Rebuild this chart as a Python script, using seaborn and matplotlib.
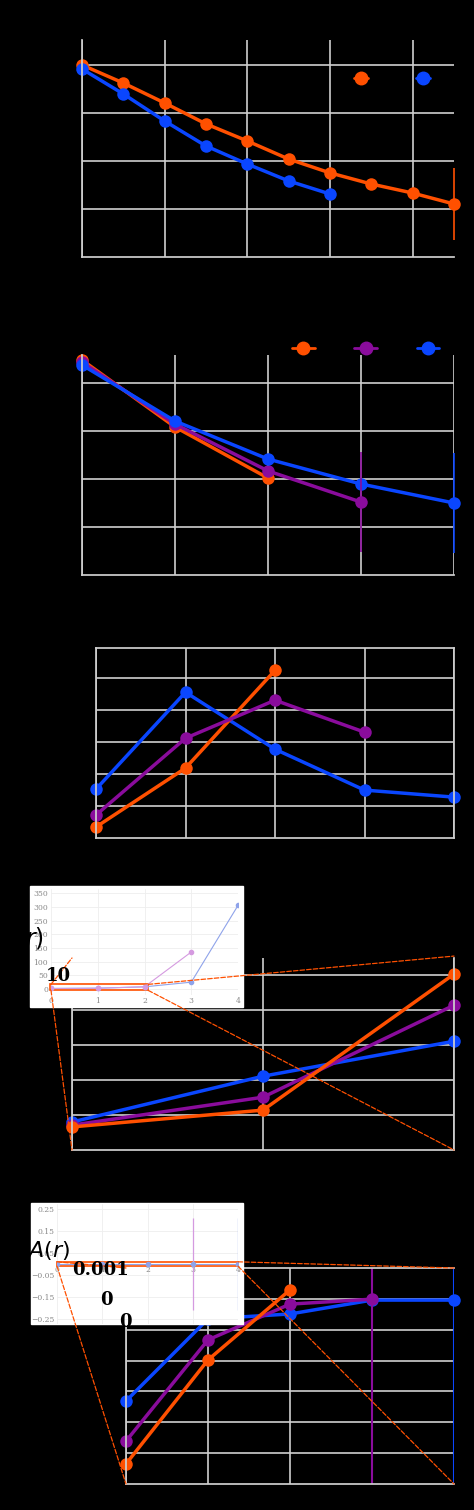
import numpy as np
import matplotlib
matplotlib.use("Agg")
import matplotlib.pyplot as plt
import seaborn as sns
from matplotlib.patches import Rectangle, ConnectionPatch

sns.set_theme(style="white")
plt.rcParams['font.family'] = ['DejaVu Serif', 'DejaVu Sans']

ORANGE = '#ff5000'
BLUE = '#0a46ff'
PURPLE = '#8a0c9c'
GRID = '#cfcfcf'

# panel 1
p1_x_orange = [0, 1, 2, 3, 4, 5, 6, 7, 8, 9]
p1_orange = [1.0, 0.906, 0.802, 0.693, 0.604, 0.510, 0.438, 0.380, 0.333, 0.276]
p1_x_blue = [0, 1, 2, 3, 4, 5, 6]
p1_blue = [0.979, 0.849, 0.708, 0.578, 0.484, 0.396, 0.328]
p1_err_orange = 0.185

# panel 2
p2_x = [0, 1, 2, 3, 4]
p2_orange = [1.12, 0.771, 0.505]
p2_purple = [1.109, 0.786, 0.542, 0.380]
p2_blue = [1.094, 0.802, 0.604, 0.474, 0.375]
p2_err = 0.26

# panel 3
p3_x = [0, 1, 2, 3, 4]
p3_blue = [0.306, 0.913, 0.556, 0.30, 0.256]
p3_orange = [0.069, 0.438, 1.05]
p3_purple = [0.144, 0.625, 0.863, 0.663]

# panel 4
p4_x = [0, 1, 2]
p4_blue = [0.80, 2.11, 3.11]
p4_purple = [0.71, 1.51, 4.14]
p4_orange = [0.66, 1.14, 5.03]
in4_x = [0, 1, 2, 3, 4]
in4_blue = [2, 3, 8, 25, 305]
in4_purple = [2, 3, 8, 135]

# panel 5
p5_x = [0, 1, 2, 3, 4]
p5_blue = [2.69, 5.35, 5.51, 5.96, 5.96]
p5_purple = [1.39, 4.67, 5.83, 5.99]
p5_orange = [0.65, 4.02, 6.29]
in5_vals = [0.0, 0.0, 0.0, 0.0, 0.0]
in5_err = 0.21

W, H = 474, 1510
fig = plt.figure(figsize=(W / 100, H / 100), dpi=100, facecolor='black')


def px_axes(x0, y0, x1, y1):
    return fig.add_axes([x0 / W, 1 - y1 / H, (x1 - x0) / W, (y1 - y0) / H])


def style(ax, xticks, yticks):
    ax.set_facecolor('black')
    ax.set_xticks(xticks)
    ax.set_yticks(yticks)
    ax.grid(True, color=GRID, lw=1.2)
    for s in ['top', 'right']:
        ax.spines[s].set_visible(False)
    for s in ['left', 'bottom']:
        ax.spines[s].set_color(GRID)
    ax.tick_params(colors='black', labelcolor='black', labelsize=9)
    ax.set_xlabel('')
    ax.set_ylabel('')


def line(ax, x, y, c, ms=9, lw=2.5):
    sns.lineplot(x=x[:len(y)], y=y, ax=ax, color=c, marker='o', markersize=ms,
                 markeredgewidth=0, lw=lw, clip_on=False, legend=False)


# ---- panel 1
ax1 = px_axes(82, 40, 454, 257)
line(ax1, p1_x_orange, p1_orange, ORANGE)
line(ax1, p1_x_blue, p1_blue, BLUE)
eb = ax1.errorbar([p1_x_orange[-1]], [p1_orange[-1]], yerr=p1_err_orange, color=ORANGE, lw=1.2, fmt='none')
for art in eb.lines[2]:
    art.set_clip_on(False)
ax1.set_xlim(0, 9); ax1.set_ylim(0, 1.13)
style(ax1, [0, 2, 4, 6, 8], [0.25, 0.5, 0.75, 1.0])
for xx, c in [(6.75, ORANGE), (8.25, BLUE)]:
    ax1.plot([xx - 0.18, xx + 0.18], [0.93, 0.93], color=c, lw=2)
    ax1.plot([xx], [0.93], color=c, marker='o', ms=9)

# ---- panel 2
ax2 = px_axes(82, 355, 454, 575)
line(ax2, p2_x, p2_orange, ORANGE)
line(ax2, p2_x, p2_purple, PURPLE)
line(ax2, p2_x, p2_blue, BLUE)
ax2.errorbar([3], [p2_purple[3]], yerr=p2_err, color=PURPLE, lw=1.2, fmt='none')
eb = ax2.errorbar([4], [p2_blue[4]], yerr=p2_err, color=BLUE, lw=1.2, fmt='none')
for art in eb.lines[2]:
    art.set_clip_on(False)
ax2.set_xlim(0, 4); ax2.set_ylim(0, 1.146)
style(ax2, [0, 1, 2, 3, 4], [0.25, 0.5, 0.75, 1.0])
for xx, c in [(2.38, ORANGE), (3.05, PURPLE), (3.72, BLUE)]:
    ax2.plot([xx - 0.12, xx + 0.12], [1.18, 1.18], color=c, lw=2, clip_on=False)
    ax2.plot([xx], [1.18], color=c, marker='o', ms=9, clip_on=False)

# ---- panel 3
ax3 = px_axes(96, 648, 454, 838)
line(ax3, p3_x, p3_blue, BLUE)
line(ax3, p3_x, p3_orange, ORANGE)
line(ax3, p3_x, p3_purple, PURPLE)
ax3.set_xlim(0, 4); ax3.set_ylim(0, 1.19)
style(ax3, [0, 1, 2, 3, 4], [0.2, 0.4, 0.6, 0.8, 1.0])
for s in ['top', 'right']:
    ax3.spines[s].set_visible(True); ax3.spines[s].set_color(GRID)

# ---- panel 4
ax4 = px_axes(72, 958, 454, 1150)
line(ax4, p4_x, p4_blue, BLUE)
line(ax4, p4_x, p4_purple, PURPLE)
line(ax4, p4_x, p4_orange, ORANGE)
ax4.set_xlim(0, 2); ax4.set_ylim(0, 5.49)
style(ax4, [0, 1, 2], [1, 2, 3, 4, 5])
ax4.spines['right'].set_visible(True); ax4.spines['right'].set_color(GRID)

fig.patches.append(Rectangle((30 / W, 1 - 1007 / H), 213 / W, 121 / H,
                             transform=fig.transFigure, facecolor='white', zorder=5))
in4 = px_axes(51, 889, 238, 994.5)
in4.set_zorder(6)
in4.set_facecolor('white')
in4.plot(in4_x, in4_blue, color='#8fa3ea', lw=0.8, marker='o', ms=3)
in4.plot(in4_x[:4], in4_purple, color='#d59ae0', lw=0.8, marker='o', ms=3)
in4.set_xlim(0, 4); in4.set_ylim(-20, 365)
in4.set_xticks([0, 1, 2, 3, 4]); in4.set_yticks(range(0, 351, 50))
in4.grid(True, color='#eeeeee', lw=0.6)
for s in in4.spines.values():
    s.set_visible(False)
in4.tick_params(labelsize=5.5, colors='#888888', length=0, pad=2)
in4.add_patch(Rectangle((-0.02, -5), 2.1, 22, fill=False, edgecolor=ORANGE, lw=1.2, clip_on=False))
for (xa, ya), (xb, yb) in [((0.0, 17), (0, 1)), ((2.08, 17), (1, 1.01)),
                           ((2.08, -5), (1, 0)), ((0.0, -5), (0, 0))]:
    cp = ConnectionPatch((xa, ya), (xb, yb), coordsA='data', coordsB='axes fraction',
                         axesA=in4, axesB=ax4, color=ORANGE, ls='--', lw=0.9)
    cp.set_zorder(7)
    fig.add_artist(cp)
fig.text(46 / W, 1 - 976 / H, '10', fontsize=13, fontweight='bold', color='black', va='center', zorder=8)
fig.text(30 / W, 1 - 938 / H, '$(r)$', fontsize=17, color='black', va='center', ha='center', zorder=8)

# ---- panel 5
ax5 = px_axes(126, 1268, 454, 1484)
line(ax5, p5_x, p5_blue, BLUE)
line(ax5, p5_x, p5_purple, PURPLE)
line(ax5, p5_x, p5_orange, ORANGE)
ax5.errorbar([3], [p5_purple[3]], yerr=7, color=PURPLE, lw=1.5, fmt='none')
ax5.errorbar([4], [p5_blue[4]], yerr=7, color=BLUE, lw=1.5, fmt='none')
ax5.set_xlim(0, 4); ax5.set_ylim(0, 7)
style(ax5, [0, 1, 2, 3, 4], [1, 2, 3, 4, 5, 6])
ax5.spines['top'].set_visible(True); ax5.spines['top'].set_color(GRID)

fig.patches.append(Rectangle((31 / W, 1 - 1324 / H), 212 / W, 121 / H,
                             transform=fig.transFigure, facecolor='white', zorder=5))
in5 = px_axes(57, 1204, 238, 1324)
in5.set_zorder(6)
in5.set_facecolor('white')
in5.errorbar([3], [in5_vals[3]], yerr=in5_err, ecolor='#d59ae0', lw=0.9, fmt='none')
in5.errorbar([4], [in5_vals[4]], yerr=in5_err, ecolor='#8fa3ea', lw=0.9, fmt='none')
in5.plot(in4_x, in5_vals, color='#8fa3ea', lw=0.8, marker='o', ms=3)
in5.set_xlim(0, 4); in5.set_ylim(-0.275, 0.275)
in5.set_xticks([0, 1, 2, 3, 4]); in5.set_yticks([-0.25, -0.15, -0.05, 0.05, 0.15, 0.25])
in5.grid(True, color='#eeeeee', lw=0.6)
for s in in5.spines.values():
    s.set_visible(False)
in5.tick_params(labelsize=5.5, colors='#888888', length=0, pad=2)
in5.xaxis.set_tick_params(pad=-42)
in5.add_patch(Rectangle((0, -0.01), 4, 0.02, fill=False, edgecolor=ORANGE, lw=1.2, clip_on=False))
for (xa, ya), (xb, yb) in [((0, 0.01), (0, 1)), ((4, 0.01), (1, 1)),
                           ((4, -0.01), (1, 0)), ((0, -0.01), (0, 0))]:
    cp = ConnectionPatch((xa, ya), (xb, yb), coordsA='data', coordsB='axes fraction',
                         axesA=in5, axesB=ax5, color=ORANGE, ls='--', lw=0.9)
    cp.set_zorder(7)
    fig.add_artist(cp)
fig.text(72 / W, 1 - 1270 / H, '0.001', fontsize=13, fontweight='bold', color='black', va='center', zorder=8)
fig.text(100 / W, 1 - 1300 / H, '0', fontsize=13, fontweight='bold', color='black', va='center', zorder=8)
fig.text(125 / W, 1 - 1322 / H, '0', fontsize=13, fontweight='bold', color='black', va='center', ha='center', zorder=8)
fig.text(48 / W, 1 - 1250 / H, '$A(r)$', fontsize=16, color='black', va='center', ha='center', zorder=8)

fig.savefig('out.png', dpi=100, facecolor='black')
